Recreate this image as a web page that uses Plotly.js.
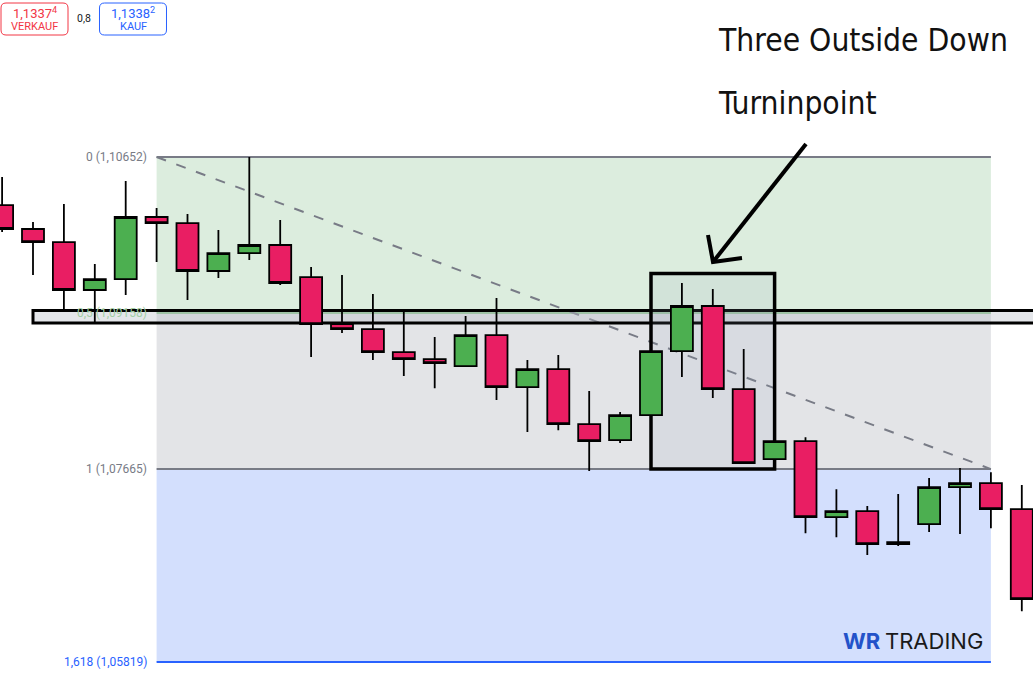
<!DOCTYPE html>
<html>
<head>
<meta charset="utf-8">
<script src="https://cdn.plot.ly/plotly-3.0.1.min.js"></script>
<style>html,body{margin:0;padding:0;background:#fff;}#chart{width:1033px;height:687px;}</style>
</head>
<body>
<div id="chart"></div>
<script>
// ---- data ----
const idx = [0,1,2,3,4,5,6,7,8,9,10,11,12,13,14,15,16,17,18,19,20,21,22,23,24,25,26,27,28,29,30,31,32,33];
const openP  = [1.10192,1.09963,1.09838,1.09379,1.09484,1.10078,1.10020,1.09561,1.09733,1.09810,1.09503,1.09053,1.09005,1.08785,1.08718,1.08651,1.08948,1.08450,1.08622,1.08096,1.07943,1.08182,1.08795,1.09226,1.08431,1.07761,1.07933,1.07205,1.07263,1.06947,1.07138,1.07493,1.07531,1.07282];
const highP  = [1.10461,1.10030,1.10202,1.09628,1.10422,1.10164,1.10106,1.09953,1.10652,1.10049,1.09599,1.09522,1.09340,1.09168,1.08929,1.09130,1.09302,1.08709,1.08756,1.08412,1.08211,1.08795,1.09446,1.09388,1.08814,1.07933,1.07971,1.07473,1.07311,1.07426,1.07579,1.07675,1.07636,1.07512];
const lowP   = [1.09934,1.09522,1.09187,1.09072,1.09331,1.09647,1.09283,1.09494,1.09666,1.09427,1.08737,1.08967,1.08709,1.08555,1.08440,1.08651,1.08326,1.08019,1.08038,1.07646,1.07914,1.08182,1.08546,1.08345,1.07722,1.07761,1.07052,1.07014,1.06842,1.06928,1.07062,1.07043,1.07100,1.06305];
const closeP = [1.09963,1.09838,1.09379,1.09484,1.10078,1.10020,1.09561,1.09733,1.09810,1.09446,1.09053,1.09005,1.08785,1.08718,1.08680,1.08948,1.08450,1.08622,1.08096,1.07933,1.08182,1.08795,1.09226,1.08431,1.07722,1.07933,1.07205,1.07263,1.06947,1.06966,1.07493,1.07531,1.07282,1.06420];

// Fibonacci levels
const fibRatios = ["0", "0,5", "1", "1,618"];
const fibPrices = [1.10652, 1.09158, 1.07665, 1.05819];
const fibLabels = ["0 (1,10652)", "0,5 (1,09158)", "1 (1,07665)", "1,618 (1,05819)"];
const fibStart = 5, fibEnd = 32;           // candle indices where the fib drawing starts/ends
const patternStart = 21, patternEnd = 25;  // three outside down box
const patternTop = 1.09537;
const sellPrice = "1,1337", sellPip = "4", buyPrice = "1,1338", buyPip = "2", spread = "0,8";

// ---- geometry helpers for decoration ----
const W = 1033, H = 687;
const k = (fibPrices[0] - fibPrices[3]) / (662 - 157);
const yTop = fibPrices[0] + 157 * k, yBot = fibPrices[0] - (H - 157) * k;
const priceAt = y => fibPrices[0] - (y - 157) * k;
const px = x => x / W, py = y => 1 - y / H;

function roundRect(x0, y0, x1, y1, r) {
  const P = (x, y) => px(x).toFixed(5) + ',' + py(y).toFixed(5);
  return 'M' + P(x0 + r, y0) + ' L' + P(x1 - r, y0) + ' Q' + P(x1, y0) + ' ' + P(x1, y0 + r) +
    ' L' + P(x1, y1 - r) + ' Q' + P(x1, y1) + ' ' + P(x1 - r, y1) +
    ' L' + P(x0 + r, y1) + ' Q' + P(x0, y1) + ' ' + P(x0, y1 - r) +
    ' L' + P(x0, y0 + r) + ' Q' + P(x0, y0) + ' ' + P(x0 + r, y0) + ' Z';
}
function linePath(pts) {
  return pts.map((p, i) => (i ? 'L' : 'M') + px(p[0]).toFixed(5) + ',' + py(p[1]).toFixed(5)).join(' ');
}

const gray = '#787b86';
const shapes = [
  // zones
  {type:'rect', layer:'below', xref:'x', yref:'y', x0:fibStart, x1:fibEnd, y0:fibPrices[0], y1:fibPrices[1], fillcolor:'#dcedde', line:{width:0}},
  {type:'rect', layer:'below', xref:'x', yref:'y', x0:fibStart, x1:fibEnd, y0:fibPrices[1], y1:fibPrices[2], fillcolor:'#e3e4e7', line:{width:0}},
  {type:'rect', layer:'below', xref:'x', yref:'y', x0:fibStart, x1:fibEnd, y0:fibPrices[2], y1:fibPrices[3], fillcolor:'#d3dffd', line:{width:0}},
  // level lines
  {type:'line', layer:'below', xref:'x', yref:'y', x0:fibStart, x1:fibEnd, y0:fibPrices[0], y1:fibPrices[0], line:{color:gray, width:2}},
  {type:'line', layer:'below', xref:'x', yref:'y', x0:fibStart, x1:fibEnd, y0:fibPrices[1], y1:fibPrices[1], line:{color:'#8fc792', width:2}},
  {type:'line', layer:'below', xref:'x', yref:'y', x0:fibStart, x1:fibEnd, y0:fibPrices[2], y1:fibPrices[2], line:{color:gray, width:2}},
  {type:'line', layer:'below', xref:'x', yref:'y', x0:fibStart, x1:fibEnd, y0:fibPrices[3], y1:fibPrices[3], line:{color:'#2962ff', width:2}},
  // trend line
  {type:'line', layer:'below', xref:'x', yref:'y', x0:fibStart, x1:fibEnd, y0:fibPrices[0], y1:fibPrices[2], line:{color:gray, width:2, dash:'10px,11px'}},
  // horizontal 0.5 box
  {type:'rect', layer:'below', xref:'x', yref:'y', x0:1, x1:40, y0:priceAt(310.5), y1:priceAt(323), fillcolor:'rgba(185,188,200,0.38)', line:{color:'#000', width:3}},
  // pattern box
  {type:'rect', layer:'below', xref:'x', yref:'y', x0:patternStart, x1:patternEnd, y0:patternTop, y1:fibPrices[2], fillcolor:'rgba(150,160,185,0.13)', line:{color:'#000', width:3.5}},
  // arrow
  {type:'path', xref:'paper', yref:'paper', path:linePath([[806,144],[713,262]]), line:{color:'#000', width:4}},
  {type:'path', xref:'paper', yref:'paper', path:linePath([[708,235],[713,262],[742,258]]), line:{color:'#000', width:4}},
  // price widgets
  {type:'path', xref:'paper', yref:'paper', path:roundRect(1,3,68,35,5), fillcolor:'#fff', line:{color:'#f23645', width:1}},
  {type:'path', xref:'paper', yref:'paper', path:roundRect(99.5,3,166.5,35,5), fillcolor:'#fff', line:{color:'#2962ff', width:1}}
];

const annotations = [];
const labelColors = [gray, '#a3cfa6', gray, '#2962ff'];
fibPrices.forEach((p, i) => {
  annotations.push({xref:'paper', yref:'y', x:px(149), y:p, xanchor:'right', yanchor:'middle', text:fibLabels[i], showarrow:false,
    font:{family:'Roboto, Liberation Sans, sans-serif', size:12, color:labelColors[i]}});
});
annotations.push(
  {xref:'paper', yref:'paper', x:px(716), y:py(40), xanchor:'left', yanchor:'middle', text:'Three Outside Down', showarrow:false,
    font:{family:'DejaVu Sans Condensed, DejaVu Sans, sans-serif', size:31.5, color:'#111'}},
  {xref:'paper', yref:'paper', x:px(716), y:py(103), xanchor:'left', yanchor:'middle', text:'Turninpoint', showarrow:false,
    font:{family:'DejaVu Sans Condensed, DejaVu Sans, sans-serif', size:31.5, color:'#111'}},
  {xref:'paper', yref:'paper', x:px(34.5), y:py(13), xanchor:'center', yanchor:'middle', text:sellPrice + '<sup>' + sellPip + '</sup>', showarrow:false,
    font:{family:'Roboto, sans-serif', size:13, color:'#f23645'}},
  {xref:'paper', yref:'paper', x:px(34.5), y:py(27), xanchor:'center', yanchor:'middle', text:'VERKAUF', showarrow:false,
    font:{family:'Roboto, sans-serif', size:11, color:'#f23645'}},
  {xref:'paper', yref:'paper', x:px(133), y:py(13), xanchor:'center', yanchor:'middle', text:buyPrice + '<sup>' + buyPip + '</sup>', showarrow:false,
    font:{family:'Roboto, sans-serif', size:13, color:'#2962ff'}},
  {xref:'paper', yref:'paper', x:px(133), y:py(27), xanchor:'center', yanchor:'middle', text:'KAUF', showarrow:false,
    font:{family:'Roboto, sans-serif', size:11, color:'#2962ff'}},
  {xref:'paper', yref:'paper', x:px(84), y:py(19), xanchor:'center', yanchor:'middle', text:spread, showarrow:false,
    font:{family:'Roboto, sans-serif', size:10.5, color:'#131722'}},
  {xref:'paper', yref:'paper', x:px(882), y:py(641), xanchor:'right', yanchor:'middle', text:'<b>WR</b>', showarrow:false,
    font:{family:'Inter, Roboto, sans-serif', size:22, color:'#2352c9'}},
  {xref:'paper', yref:'paper', x:px(883), y:py(641), xanchor:'left', yanchor:'middle', text:'TRADING', showarrow:false,
    font:{family:'Inter, Roboto, sans-serif', size:22, color:'#1a1a1a'}}
);

const trace = {
  type:'candlestick', x:idx, open:openP, high:highP, low:lowP, close:closeP,
  increasing:{line:{color:'#000', width:1.8}, fillcolor:'#4caf50'},
  decreasing:{line:{color:'#000', width:1.8}, fillcolor:'#e91e63'},
  whiskerwidth:0, hoverinfo:'skip'
};

const layout = {
  width:W, height:H, margin:{l:0, r:0, t:0, b:0},
  paper_bgcolor:'#fff', plot_bgcolor:'#fff', showlegend:false, hovermode:false,
  boxgap:0.288, boxgroupgap:0,
  xaxis:{range:[-2.1/30.9, (W - 2.1)/30.9], visible:false, rangeslider:{visible:false}, fixedrange:true},
  yaxis:{range:[yBot, yTop], visible:false, fixedrange:true},
  shapes:shapes, annotations:annotations
};

Plotly.newPlot('chart', [trace], layout, {staticPlot:true, displayModeBar:false});
</script>
</body>
</html>
